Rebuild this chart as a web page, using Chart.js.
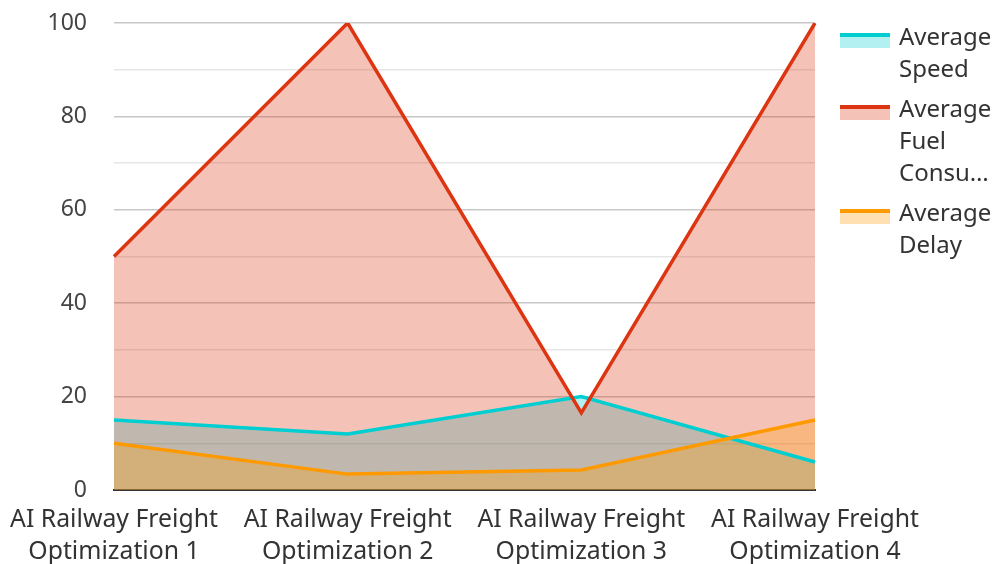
<!DOCTYPE html>
<html>
<head>
<meta charset="utf-8">
<script src="https://cdn.jsdelivr.net/npm/chart.js@4/dist/chart.umd.min.js"></script>
<style>
  body { margin: 0; background: #fff; }
  #wrap { position: relative; width: 999px; height: 564px; }
  #legend { position: absolute; left: 840px; top: 20px; font: 24px 'Noto Sans'; color: #333; line-height: 32px; }
  .item { display: flex; margin-bottom: 8px; }
  .sw { width: 50px; height: 15px; margin-top: 13px; box-sizing: border-box; flex: none; }
  .txt { margin-left: 9px; width: 100px; white-space: nowrap; }
</style>
</head>
<body>
<div id="wrap">
  <canvas id="myChart" width="999" height="564"></canvas>
  <div id="legend"></div>
</div>
<script>
var categories = [
  ['AI Railway Freight', 'Optimization 1'],
  ['AI Railway Freight', 'Optimization 2'],
  ['AI Railway Freight', 'Optimization 3'],
  ['AI Railway Freight', 'Optimization 4']
];
var seriesNames = ['Average Speed', 'Average Fuel Consu\u2026', 'Average Delay'];
var speed = [15, 12, 20, 6];
var fuel = [50, 100, 16.5, 100];
var delay = [10, 3.4, 4.3, 15];
var lineColors = ['rgb(0,206,209)', 'rgb(221,52,17)', 'rgb(255,153,0)'];
var fillColors = ['rgba(0,206,209,0.3)', 'rgba(221,52,17,0.3)', 'rgba(255,153,0,0.3)'];

var allData = [speed, fuel, delay];
var datasets = [];
for (var i = 0; i < 3; i++) {
  datasets.push({
    label: seriesNames[i],
    data: allData[i],
    borderColor: lineColors[i],
    backgroundColor: fillColors[i],
    borderWidth: 3.5,
    fill: 'origin',
    pointRadius: 0,
    tension: 0,
    order: 3 - i   // speed painted first, delay last (on top)
  });
}

// legend as html, words wrap like the original
var htmlLg = '';
for (var i = 0; i < 3; i++) {
  htmlLg += '<div class="item">';
  htmlLg += '<div class="sw" style="border-top:4px solid ' + lineColors[i] + ';background:' + fillColors[i] + '"></div>';
  htmlLg += '<div class="txt">' + seriesNames[i].replace(/ /g, '<br>') + '</div>';
  htmlLg += '</div>';
}
document.getElementById('legend').innerHTML = htmlLg;

var ctx = document.getElementById('myChart').getContext('2d');
var myChart = new Chart(ctx, {
  type: 'line',
  data: {
    labels: categories,
    datasets: datasets
  },
  options: {
    responsive: false,
    animation: false,
    layout: { padding: { top: 23, right: 184, left: 0, bottom: 0 } },
    plugins: {
      legend: { display: false },
      tooltip: { enabled: false },
      filler: { drawTime: 'beforeDatasetsDraw' }
    },
    scales: {
      x: {
        offset: false,
        // tick length used only as spacing, so it doesn't count as label padding
        grid: { display: false, drawTicks: true, tickLength: 4 },
        border: { display: true, color: '#333', width: 2 },
        ticks: {
          color: '#333',
          font: { family: 'Noto Sans', size: 24.8, lineHeight: 1.29 },
          padding: 10,
          maxRotation: 0,
          autoSkip: false
        },
        afterFit: function (scale) { scale.height = 74; }
      },
      y: {
        min: 0,
        max: 100,
        grid: {
          drawTicks: true,
          tickLength: 27,
          tickColor: 'rgba(0,0,0,0)',
          color: function (c) {
            return c.tick.value % 20 === 0 ? '#c8c8c8' : '#e6e6e6';
          },
          lineWidth: 1.5
        },
        border: { display: false },
        ticks: {
          stepSize: 10,
          color: '#444',
          font: { family: 'Noto Sans', size: 23 },
          padding: 0,
          callback: function (v) { return v % 20 === 0 ? v : ''; }
        },
        afterFit: function (scale) { scale.width = 114; }
      }
    }
  }
});
</script>
</body>
</html>
